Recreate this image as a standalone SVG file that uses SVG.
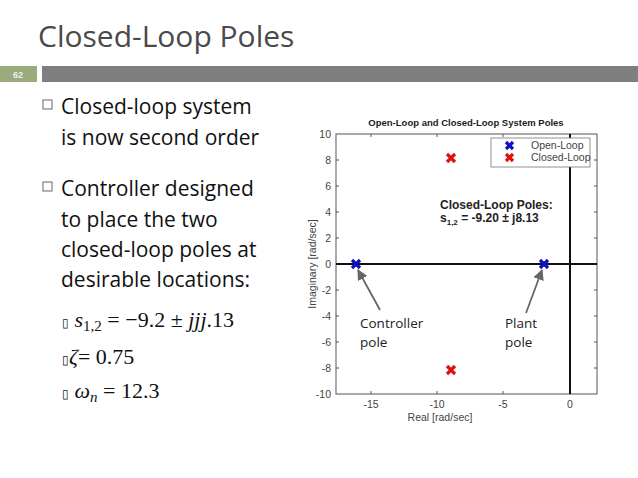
<svg xmlns="http://www.w3.org/2000/svg" width="638" height="478" viewBox="0 0 638 478">
<defs>
<style>
.b{font-family:"Open Sans","Liberation Sans",sans-serif;font-size:21px;fill:#111}
.m{font-family:"Liberation Serif",serif;font-size:22px;fill:#111}
.t{font-family:"Liberation Sans",sans-serif;font-size:10.5px;fill:#444}
.lab{font-family:"Open Sans","Liberation Sans",sans-serif;font-size:13.5px;fill:#222}
.xb{stroke:#1010c0;stroke-width:3.2}
.xr{stroke:#e01010;stroke-width:3.2}
</style>
<marker id="ah" viewBox="0 0 10 10" refX="9" refY="5" markerWidth="6" markerHeight="6" orient="auto"><path d="M0,0L10,5L0,10z" fill="#666"/></marker>
</defs>
<rect width="638" height="478" fill="#fff"/>
<text x="38" y="47" font-family="Open Sans,Liberation Sans,sans-serif" font-size="30" fill="#4a4a4a">Closed-Loop Poles</text>
<rect x="0" y="66" width="37" height="16" fill="#9bab7c"/>
<text x="18" y="78" text-anchor="middle" font-family="Liberation Sans,sans-serif" font-size="9" font-weight="bold" fill="#eee">62</text>
<rect x="42" y="66" width="596" height="16" fill="#7f7f7f"/>
<g id="text">
<rect x="43" y="100" width="9" height="9" fill="none" stroke="#666"/>
<text class="b" x="61" y="114">Closed-loop system</text>
<text class="b" x="61" y="145">is now second order</text>
<rect x="43" y="182" width="9" height="9" fill="none" stroke="#666"/>
<text class="b" x="61" y="196">Controller designed</text>
<text class="b" x="61" y="227">to place the two</text>
<text class="b" x="61" y="257">closed-loop poles at</text>
<text class="b" x="61" y="287">desirable locations:</text>
<text class="m" x="62" y="327"><tspan font-size="12">▯</tspan><tspan font-style="italic"> s</tspan><tspan font-size="15" dy="4">1,2</tspan><tspan dy="-4"> = −9.2 ± </tspan><tspan font-style="italic">jjj</tspan>.13</text>
<text class="m" x="62" y="364"><tspan font-size="12">▯</tspan><tspan font-style="italic">ζ</tspan>= 0.75</text>
<text class="m" x="62" y="398"><tspan font-size="12">▯</tspan><tspan font-style="italic"> ω</tspan><tspan font-size="15" font-style="italic" dy="4">n</tspan><tspan dy="-4"> = 12.3</tspan></text>
</g>
<g id="plot">
<text x="466" y="126" text-anchor="middle" font-family="Liberation Sans,sans-serif" font-size="9.5" font-weight="bold" fill="#222">Open-Loop and Closed-Loop System Poles</text>
<rect x="336" y="134" width="261" height="260" fill="#fff" stroke="#555"/>
<g stroke="#555">
<path d="M371,394v-3M437,394v-3M503,394v-3M570,394v-3M371,134v3M437,134v3M503,134v3M570,134v3"/>
<path d="M336,160h3M336,186h3M336,212h3M336,238h3M336,290h3M336,316h3M336,342h3M336,368h3M597,160h-3M597,186h-3M597,212h-3M597,238h-3M597,290h-3M597,316h-3M597,342h-3M597,368h-3"/>
</g>
<g class="t" text-anchor="end">
<text x="331" y="138">10</text><text x="331" y="164">8</text><text x="331" y="190">6</text><text x="331" y="216">4</text><text x="331" y="242">2</text><text x="331" y="268">0</text><text x="331" y="294">-2</text><text x="331" y="320">-4</text><text x="331" y="346">-6</text><text x="331" y="372">-8</text><text x="331" y="398">-10</text>
</g>
<g class="t" text-anchor="middle">
<text x="371" y="408">-15</text><text x="437" y="408">-10</text><text x="503" y="408">-5</text><text x="570" y="408">0</text>
<text x="440" y="421">Real    [rad/sec]</text>
<text transform="translate(316,264) rotate(-90)">Imaginary    [rad/sec]</text>
</g>
<path d="M336,264H597M570,134V394" stroke="#111" stroke-width="2"/>
<rect x="491" y="138" width="99" height="29" fill="#fff" stroke="#777" stroke-width="0.8"/>
<path class="xb" d="M506,142l7,7M513,142l-7,7"/>
<path class="xr" d="M506,154l7,7M513,154l-7,7"/>
<text class="t" x="531" y="149">Open-Loop</text>
<text class="t" x="531" y="161">Closed-Loop</text>
<text x="440" y="209" font-family="Liberation Sans,sans-serif" font-size="12" font-weight="bold" fill="#222">Closed-Loop Poles:</text>
<text x="440" y="222" font-family="Liberation Sans,sans-serif" font-size="12" font-weight="bold" fill="#222">s<tspan font-size="8" dy="3">1,2</tspan><tspan dy="-3"> = -9.20 ± j8.13</tspan></text>
<path class="xb" d="M352,260l8,8M360,260l-8,8"/>
<path class="xb" d="M540,260l8,8M548,260l-8,8"/>
<path class="xr" d="M447,154l8,8M455,154l-8,8"/>
<path class="xr" d="M447,366l8,8M455,366l-8,8"/>
</g>
<g id="connectors" stroke="#666" stroke-width="1.8" fill="none">
<path d="M380,310L358,270" marker-end="url(#ah)"/>
<path d="M526,313L542,270" marker-end="url(#ah)"/>
</g>
<text class="lab" x="360" y="328">Controller</text>
<text class="lab" x="360" y="347">pole</text>
<text class="lab" x="505" y="328">Plant</text>
<text class="lab" x="505" y="347">pole</text>
</svg>
